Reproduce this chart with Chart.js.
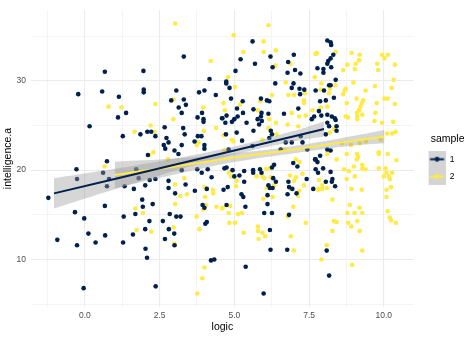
<!DOCTYPE html>
<html><head><meta charset="utf-8">
<script src="https://cdn.jsdelivr.net/npm/chart.js@4/dist/chart.umd.min.js"></script>
<style>html,body{margin:0;padding:0;background:#fff;}</style>
</head><body>
<canvas id="c" width="474" height="338"></canvas>
<script>
// ---- data: [logic, intelligence.a] ----
const sample1Points = [
[0.67,31.0],[-0.22,28.5],[0.58,28.8],[1.14,28.2],[1.38,26.4],[1.11,25.9],[0.16,24.9],[1.27,23.8],
[3.31,32.7],[1.96,31.1],[4.17,30.2],[1.97,29.0],[1.97,28.7],[3.06,28.9],[3.82,28.7],[4.0,28.9],[4.38,28.4],[2.89,27.8],[3.31,27.9],[3.38,27.3],[3.14,27.0],[3.24,26.4],[3.92,26.4],[3.77,25.9],[3.97,25.7],[3.97,25.4],[4.6,25.8],[2.67,24.8],[3.29,24.7],[2.09,24.3],[2.22,24.3],[1.86,24.0],[2.36,23.8],[3.34,24.0],[2.73,23.6],[3.78,23.8],[3.9,23.8],[2.8,23.1],[3.67,23.2],[2.64,22.8],[2.69,22.4],[3.24,22.8],[4.0,22.8],[4.0,22.4],[3.0,22.2],[3.13,21.8],[2.11,21.7],
[5.61,34.4],[6.21,32.7],[6.99,32.9],[5.21,32.4],[5.69,31.9],[6.8,32.1],[6.28,31.5],[7.03,31.2],[5.04,31.1],[6.78,30.9],[7.21,30.8],[4.73,29.9],[4.73,29.7],[6.37,29.7],[6.98,29.7],[4.84,29.2],[6.92,29.2],[7.18,29.1],[7.34,29.0],[7.2,28.5],[4.89,28.0],[5.89,28.0],[6.09,27.8],[6.17,27.7],[5.28,27.7],[5.09,26.9],[5.64,26.8],[7.14,26.9],[5.29,26.4],[5.91,26.4],[6.14,26.3],[6.66,26.3],[4.59,25.8],[4.74,26.1],[5.11,26.0],[5.0,25.7],[4.92,25.4],[5.89,26.0],[5.78,25.7],[5.92,25.5],[7.59,25.7],[7.67,26.0],[4.7,25.3],[5.41,25.3],[5.83,25.1],[5.08,24.2],[5.64,24.4],[6.22,24.4],[4.72,24.0],[5.26,23.3],[6.17,23.6],[6.26,24.0],[7.22,23.8],[6.72,23.1],[6.92,23.1],[7.28,23.1],[7.44,22.3],[5.61,22.7],[4.81,22.3],[6.55,22.3],
[8.11,34.5],[8.22,34.3],[8.24,34.0],[8.31,32.9],[8.22,32.5],[8.14,32.2],[8.11,31.9],[7.78,31.4],[7.98,31.3],[7.98,30.9],[8.24,31.5],[8.39,30.1],[8.17,29.5],[8.22,29.5],[7.72,28.9],[8.0,28.9],[8.33,28.1],[7.87,27.7],[8.06,27.8],[7.83,26.6],[7.91,26.1],[8.11,26.2],[8.26,26.0],[8.36,25.8],[8.39,25.6],[8.11,25.3],[8.17,24.9],[8.42,24.9],[8.42,24.4],[8.06,24.0],[8.11,22.3],[8.22,22.2],
[0.74,21.0],[-0.28,20.1],[0.61,19.7],[-0.26,19.0],[0.81,19.0],[0.74,18.2],[1.33,18.2],[-1.22,16.9],[0.67,16.0],[-0.33,15.3],[-0.02,14.6],[1.3,14.8],[0.12,12.9],[-0.92,12.2],[-0.26,11.6],[0.36,11.9],[0.68,12.7],[1.28,11.9],[-0.04,6.8],
[1.72,20.1],[2.17,18.9],[2.36,19.0],[1.8,19.1],[3.24,20.0],[3.76,20.1],[4.11,20.1],[3.91,19.7],[4.24,19.2],[1.64,17.9],[2.02,18.3],[2.8,18.8],[2.8,18.0],[3.37,18.4],[3.02,17.4],[3.68,17.7],[4.08,17.9],[1.92,16.7],[1.94,15.9],[2.27,16.2],[3.94,16.1],[4.0,15.8],[1.69,15.1],[2.84,15.1],[3.06,14.8],[3.2,14.8],[2.16,14.3],[2.61,14.3],[4.08,14.2],[4.03,14.0],[2.02,13.4],[2.81,13.4],[1.61,12.8],[2.99,12.9],[2.68,12.3],[3.0,11.6],[2.03,11.2],[2.08,10.2],[4.22,9.9],[4.33,10.0],[2.37,7.0],
[4.67,20.2],[4.74,20.3],[4.94,20.0],[5.0,19.3],[5.17,19.4],[5.33,19.9],[5.33,18.7],[4.78,18.1],[4.64,17.8],[5.63,20.0],[5.63,19.7],[5.86,20.1],[5.91,19.7],[6.26,20.3],[6.33,20.6],[6.3,19.1],[6.14,18.3],[6.19,18.0],[6.39,18.7],[6.28,18.0],[5.24,17.3],[5.3,17.0],[5.37,15.9],[4.74,16.1],[6.0,15.2],[6.26,15.2],[6.11,16.2],[6.11,17.2],[6.97,20.8],[7.11,20.4],[7.72,21.2],[7.72,20.1],[7.42,19.0],[6.81,18.7],[6.83,18.1],[6.94,17.9],[6.78,17.3],[7.08,17.4],[7.64,17.9],[6.83,15.0],[6.19,13.3],[6.21,11.1],[6.77,11.1],[5.38,9.2],[5.98,6.2],
[7.87,21.6],[7.7,21.2],[7.78,20.9],[7.8,19.7],[7.97,20.2],[8.22,19.8],[8.28,19.0],[8.26,18.7],[8.37,18.2],[8.06,18.7],[8.09,11.0],[8.17,8.2]
];
const sample2Points = [
[0.79,27.1],[1.22,27.0],
[3.02,36.4],[4.21,32.2],[2.97,27.9],[2.36,27.4],[3.96,27.0],[2.96,25.7],[2.2,25.0],[4.39,24.7],[1.66,24.3],[2.33,24.3],[3.98,24.4],[4.64,23.9],[3.8,23.1],[3.74,22.8],[2.29,22.0],[2.15,21.7],
[6.14,36.2],[4.98,35.1],[5.98,34.4],[5.3,33.2],[6.39,33.4],[5.98,33.2],[7.72,33.0],[6.88,31.9],[6.37,31.7],[4.79,30.4],[6.72,29.8],[5.02,29.3],[7.36,28.6],[6.26,28.4],[6.81,28.4],[7.0,28.4],[5.87,27.7],[4.64,27.5],[5.19,27.3],[7.33,27.8],[7.33,27.5],[4.68,26.7],[5.78,26.7],[7.61,26.7],[6.92,26.4],[7.17,26.0],[7.39,26.1],[6.17,25.7],[6.39,25.3],[6.78,25.1],[7.14,24.9],[6.14,24.7],[4.7,24.0],[4.92,23.4],[4.97,23.2],[5.94,23.4],[6.41,24.0],[6.67,22.3],[4.67,22.2],
[7.76,33.1],[8.39,33.2],[8.92,33.1],[9.19,32.9],[9.94,32.9],[10.13,32.9],[10.02,32.5],[9.17,32.3],[8.78,31.8],[9.06,31.9],[9.78,31.9],[10.37,31.8],[8.64,31.2],[9.03,31.3],[9.81,31.2],[7.69,30.4],[7.91,29.7],[10.33,30.1],[8.98,29.8],[8.38,29.5],[9.7,29.4],[8.72,29.1],[8.69,28.9],[8.64,28.5],[9.39,28.9],[10.26,29.2],[7.89,29.0],[8.2,29.1],[8.17,28.6],[9.09,28.0],[9.31,27.8],[10.02,28.0],[10.13,28.0],[8.76,27.5],[9.26,27.5],[9.22,27.1],[9.76,27.5],[10.37,27.4],[8.11,27.1],[7.89,27.0],[9.17,26.7],[9.1,26.4],[9.11,26.0],[9.28,26.2],[9.72,26.4],[8.72,26.0],[8.8,25.9],[9.11,25.7],[9.69,25.5],[9.94,25.3],[10.31,25.4],[8.33,24.6],[8.2,24.2],[10.11,24.1],[10.28,24.1],[10.39,24.3],[9.89,23.4],[8.6,23.0],[8.9,22.8],[9.2,23.0],[9.4,23.2],[9.83,22.0],[10.13,21.8],[9.1,21.8],
[0.66,20.4],
[2.78,21.2],[3.02,18.4],[3.33,19.1],[3.19,17.1],[3.41,17.3],[4.0,18.1],[4.02,17.0],[4.28,17.8],[4.29,17.4],[3.02,16.2],[1.69,15.7],[4.06,16.1],[3.96,15.6],[4.4,15.9],[4.59,15.7],[1.94,15.2],[3.74,14.8],[1.73,13.3],[2.22,13.1],[2.97,13.6],[3.83,13.4],[3.0,11.8],[4.0,9.1],[3.93,7.9],[3.76,6.2],
[4.81,19.7],[4.89,19.3],[5.08,18.8],[5.06,18.2],[5.74,19.3],[5.94,19.3],[6.06,20.1],[6.19,20.2],[6.28,20.4],[6.0,19.1],[6.22,19.2],[6.08,18.0],[6.33,18.3],[4.86,16.0],[4.61,15.8],[4.81,15.2],[5.12,15.1],[5.26,15.2],[5.97,16.8],[6.28,17.0],[7.06,21.2],[7.19,20.9],[6.86,19.4],[7.06,19.2],[7.28,19.6],[7.0,18.8],[7.33,18.3],[6.89,17.9],[7.17,17.7],[7.13,17.1],[7.8,17.8],[6.97,15.9],[6.78,14.8],[7.39,14.1],[5.02,14.1],[4.83,14.1],[5.31,13.0],[5.79,13.7],[5.79,13.2],[5.94,13.0],[6.03,12.6],[5.81,12.3],[6.89,12.6],[6.99,11.0],
[8.11,21.8],[8.42,21.2],[8.76,21.8],[9.09,21.2],[9.14,21.5],[9.83,21.8],[10.42,21.1],[7.83,18.9],[7.94,18.3],[7.83,17.9],[7.94,17.9],[8.09,18.0],[8.67,20.1],[8.83,19.9],[9.28,20.6],[9.28,20.2],[9.39,20.1],[9.0,20.4],[9.03,19.3],[8.76,19.0],[9.83,20.2],[10.06,20.2],[10.09,19.7],[10.0,19.3],[10.17,19.3],[10.28,19.7],[10.2,19.0],[10.24,18.1],[10.09,17.8],[10.09,17.0],[8.92,17.9],[9.26,17.8],[8.28,16.7],[8.86,16.1],[9.19,15.8],[8.78,15.2],[9.02,15.2],[9.28,15.2],[10.13,15.4],[10.2,14.7],[10.24,14.4],[10.4,14.1],[8.33,14.3],[8.42,14.2],[8.81,14.1],[8.91,13.7],[9.11,14.3],[8.28,13.2],[9.19,13.2],[8.09,11.6],[9.28,11.0],[7.91,10.0],[8.94,9.4]
];

// fitted lines and confidence bands (read at a few x positions)
const fit1X  = [-1.03, 1, 3, 5, 7, 8.0];
const fit1Y  = [17.4, 19.0, 20.6, 22.2, 23.8, 24.6];
const fit1Lo = [15.7, 17.85, 19.9, 21.75, 23.2, 23.75];
const fit1Hi = [19.1, 20.15, 21.3, 22.65, 24.4, 25.45];
const fit2X  = [1.0, 3, 5, 7, 9, 10.02];
const fit2Y  = [19.45, 20.4, 21.4, 22.3, 23.3, 23.75];
const fit2Lo = [17.95, 19.5, 20.9, 21.9, 22.75, 23.0];
const fit2Hi = [20.95, 21.3, 21.9, 22.7, 23.85, 24.5];

const groupLabels = ['1', '2'];
const groupColors = ['#00204D', '#FFEA46'];
const xMajorTicks = [0, 2.5, 5, 7.5, 10];
const yMajorTicks = [10, 20, 30];

// ---- build ----
const toXY = pts => pts.map(p => ({x: p[0], y: p[1]}));
const zipXY = (xs, ys) => xs.map((x, i) => ({x, y: ys[i]}));
const bandFill = 'rgba(153,153,153,0.4)';

function keyCanvas(color) {
  const c = document.createElement('canvas');
  c.width = 23; c.height = 17;
  const g = c.getContext('2d');
  g.fillStyle = '#d4d4d4';
  g.fillRect(6, 0, 17, 17);
  g.strokeStyle = color; g.lineWidth = 2;
  g.beginPath(); g.moveTo(7.5, 8.5); g.lineTo(21.5, 8.5); g.stroke();
  g.fillStyle = color;
  g.beginPath(); g.arc(14.5, 8.5, 2.4, 0, Math.PI * 2); g.fill();
  return c;
}
const keys = groupColors.map(keyCanvas);

const isMajor = (v, list) => list.some(t => Math.abs(t - v) < 1e-6);

Chart.defaults.font.family = "'Liberation Sans', Arial, sans-serif";

const datasets = [
  {type: 'scatter', label: groupLabels[0], data: toXY(sample1Points), backgroundColor: groupColors[0], borderWidth: 0, pointRadius: 2.3, order: 3},
  {type: 'scatter', label: groupLabels[1], data: toXY(sample2Points), backgroundColor: groupColors[1], borderWidth: 0, pointRadius: 2.3, order: 3},
  {type: 'line', label: 'lo1', data: zipXY(fit1X, fit1Lo), borderColor: 'rgba(0,0,0,0)', borderWidth: 0, pointRadius: 0, fill: false, tension: 0.4, order: 2},
  {type: 'line', label: 'hi1', data: zipXY(fit1X, fit1Hi), borderColor: 'rgba(0,0,0,0)', borderWidth: 0, pointRadius: 0, fill: '-1', backgroundColor: bandFill, tension: 0.4, order: 2},
  {type: 'line', label: 'fit1', data: zipXY(fit1X, fit1Y), borderColor: groupColors[0], borderWidth: 2, pointRadius: 0, fill: false, order: 1},
  {type: 'line', label: 'lo2', data: zipXY(fit2X, fit2Lo), borderColor: 'rgba(0,0,0,0)', borderWidth: 0, pointRadius: 0, fill: false, tension: 0.4, order: 2},
  {type: 'line', label: 'hi2', data: zipXY(fit2X, fit2Hi), borderColor: 'rgba(0,0,0,0)', borderWidth: 0, pointRadius: 0, fill: '-1', backgroundColor: bandFill, tension: 0.4, order: 2},
  {type: 'line', label: 'fit2', data: zipXY(fit2X, fit2Y), borderColor: groupColors[1], borderWidth: 2, pointRadius: 0, fill: false, order: 1}
];

new Chart(document.getElementById('c'), {
  type: 'scatter',
  data: {datasets},
  options: {
    responsive: false,
    animation: false,
    events: [],
    devicePixelRatio: 1,
    layout: {padding: {top: 5, right: 9.5, bottom: 0, left: 0}},
    plugins: {
      tooltip: {enabled: false},
      legend: {
        position: 'right',
        fullSize: false,
        align: 'center',
        title: {display: true, text: 'sample', position: 'end', color: '#000', font: {size: 10.5}, padding: {top: 6, bottom: 0}},
        labels: {
          usePointStyle: true,
          pointStyleWidth: 23,
          padding: 8.8,
          color: '#000',
          font: {size: 8.5},
          generateLabels: () => groupLabels.map((t, i) => ({
            text: t, pointStyle: keys[i], fillStyle: groupColors[i], strokeStyle: groupColors[i],
            lineWidth: 0, hidden: false, datasetIndex: i, fontColor: '#000'
          }))
        }
      }
    },
    scales: {
      x: {
        type: 'linear', min: -1.8, max: 11.0,
        afterFit: s => { s.height = 31; },
        border: {display: false},
        grid: {
          drawTicks: false,
          color: '#ebebeb',
          lineWidth: ctx => isMajor(ctx.tick.value, xMajorTicks) ? 1.1 : 0.55
        },
        ticks: {
          stepSize: 1.25, includeBounds: false, padding: 4, color: '#4d4d4d', font: {size: 8.5},
          maxRotation: 0, autoSkip: false,
          callback: v => isMajor(v, xMajorTicks) ? v.toFixed(1) : ''
        },
        title: {display: true, text: 'logic', color: '#000', font: {size: 10.5}, padding: {top: 0, bottom: 4.5}}
      },
      y: {
        type: 'linear', min: 4.69, max: 37.9,
        afterFit: s => { s.width = 31; },
        border: {display: false},
        grid: {
          drawTicks: false,
          color: '#ebebeb',
          lineWidth: ctx => isMajor(ctx.tick.value, yMajorTicks) ? 1.1 : 0.55
        },
        ticks: {
          stepSize: 5, includeBounds: false, padding: 5, color: '#4d4d4d', font: {size: 8.5},
          autoSkip: false,
          callback: v => isMajor(v, yMajorTicks) ? String(v) : ''
        },
        title: {display: true, text: 'intelligence.a', color: '#000', font: {size: 10.5}, padding: {top: 2, bottom: 0}}
      }
    }
  }
});
</script>
</body></html>
